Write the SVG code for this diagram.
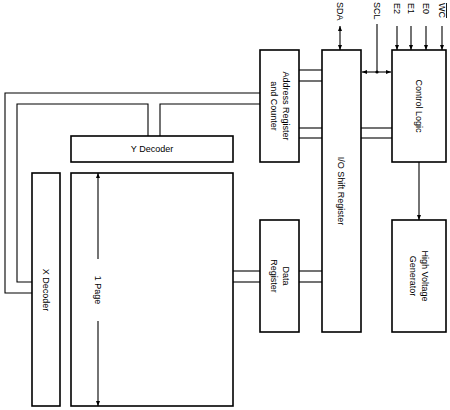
<svg xmlns="http://www.w3.org/2000/svg" width="450" height="410" viewBox="0 0 450 410">
<defs>
<marker id="ah" viewBox="0 0 10 10" refX="10" refY="5" markerWidth="5" markerHeight="5" orient="auto-start-reverse" markerUnits="userSpaceOnUse">
<path d="M0,1 L10,5 L0,9 z" fill="#000"/>
</marker>
<style>
.box{fill:#fff;stroke:#000;stroke-width:1.6}
.ln{fill:none;stroke:#000;stroke-width:1.1}
text{font-family:"Liberation Sans",Arial,sans-serif;font-size:9px;fill:#000}
.c{text-anchor:middle;dominant-baseline:central}
</style>
</defs>
<rect width="450" height="410" fill="#fff"/>
<g id="connectors">
<polyline class="ln" points="260,93 5,93 5,293 32,293"/>
<polyline class="ln" points="260,104 160,104 160,136"/>
<polyline class="ln" points="148,136 148,104 17,104 17,282 32,282"/>
<line class="ln" x1="299" y1="70" x2="322" y2="70"/>
<line class="ln" x1="299" y1="81" x2="322" y2="81"/>
<line class="ln" x1="299" y1="128" x2="322" y2="128"/>
<line class="ln" x1="299" y1="138" x2="322" y2="138"/>
<line class="ln" x1="361" y1="128" x2="392" y2="128"/>
<line class="ln" x1="361" y1="138" x2="392" y2="138"/>
<line class="ln" x1="233" y1="271" x2="260" y2="271"/>
<line class="ln" x1="233" y1="282" x2="260" y2="282"/>
<line class="ln" x1="299" y1="271" x2="322" y2="271"/>
<line class="ln" x1="299" y1="282" x2="322" y2="282"/>
<line class="ln" x1="340" y1="26" x2="340" y2="50" marker-start="url(#ah)" marker-end="url(#ah)"/>
<line class="ln" x1="377" y1="24" x2="377" y2="72"/>
<line class="ln" x1="362" y1="72" x2="391" y2="72" marker-start="url(#ah)" marker-end="url(#ah)"/>
<circle cx="377" cy="72" r="1.6" fill="#000"/>
<line class="ln" x1="397" y1="26" x2="397" y2="50" marker-end="url(#ah)"/>
<line class="ln" x1="411" y1="26" x2="411" y2="50" marker-end="url(#ah)"/>
<line class="ln" x1="426" y1="26" x2="426" y2="50" marker-end="url(#ah)"/>
<line class="ln" x1="442" y1="26" x2="442" y2="50" marker-end="url(#ah)"/>
<line class="ln" x1="419" y1="162" x2="419" y2="220" marker-end="url(#ah)"/>
</g>
<g id="pins">
<text transform="translate(340,2) rotate(90)" dominant-baseline="central">SDA</text>
<text transform="translate(377,2) rotate(90)" dominant-baseline="central">SCL</text>
<text transform="translate(397,3) rotate(90)" dominant-baseline="central">E2</text>
<text transform="translate(411,3) rotate(90)" dominant-baseline="central">E1</text>
<text transform="translate(426,3) rotate(90)" dominant-baseline="central">E0</text>
<text transform="translate(442,3) rotate(90)" dominant-baseline="central" text-decoration="overline">WC</text>
</g>
<g id="address-register">
<rect class="box" x="260" y="50" width="39" height="112"/>
<text class="c" transform="translate(280,106) rotate(90)"><tspan x="0" dy="-6">Address Register</tspan><tspan x="0" dy="12">and Counter</tspan></text>
</g>
<g id="io-shift-register">
<rect class="box" x="322" y="50" width="39" height="282"/>
<text class="c" transform="translate(341,191) rotate(90)">I/O Shift Register</text>
</g>
<g id="control-logic">
<rect class="box" x="392" y="50" width="54" height="112"/>
<text class="c" transform="translate(419,106) rotate(90)">Control Logic</text>
</g>
<g id="high-voltage-generator">
<rect class="box" x="392" y="220" width="54" height="112"/>
<text class="c" transform="translate(419,276) rotate(90)"><tspan x="0" dy="-6">High Voltage</tspan><tspan x="0" dy="12">Generator</tspan></text>
</g>
<g id="data-register">
<rect class="box" x="260" y="220" width="39" height="112"/>
<text class="c" transform="translate(280,276) rotate(90)"><tspan x="0" dy="-6">Data</tspan><tspan x="0" dy="12">Register</tspan></text>
</g>
<g id="y-decoder">
<rect class="box" x="71" y="136" width="162" height="26"/>
<text class="c" x="152" y="149">Y Decoder</text>
</g>
<g id="x-decoder">
<rect class="box" x="32" y="173" width="28" height="233"/>
<text class="c" transform="translate(46,290) rotate(90)">X Decoder</text>
</g>
<g id="memory-array">
<rect class="box" x="71" y="173" width="162" height="233"/>
<line class="ln" x1="98" y1="173" x2="98" y2="259" marker-start="url(#ah)"/>
<line class="ln" x1="98" y1="321" x2="98" y2="406" marker-end="url(#ah)"/>
<text class="c" transform="translate(98,290) rotate(90)">1 Page</text>
</g>
</svg>
